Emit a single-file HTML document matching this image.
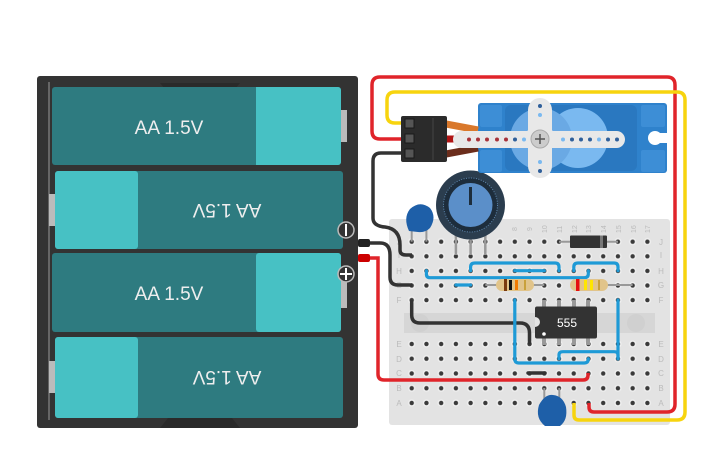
<!DOCTYPE html>
<html><head><meta charset="utf-8"><style>
html,body{margin:0;padding:0;background:#fff;width:725px;height:453px;overflow:hidden}
svg{display:block}
text{font-family:"Liberation Sans",sans-serif}
</style></head><body>
<svg width="725" height="453" viewBox="0 0 725 453" xmlns="http://www.w3.org/2000/svg">
<defs>
<pattern id="ht" patternUnits="userSpaceOnUse" x="404.35" y="234.4" width="14.73" height="14.6">
<circle cx="7.36" cy="7.3" r="3.6" fill="#f0f0f0"/><circle cx="7.36" cy="7.3" r="2.2" fill="#3a3a3a"/></pattern>
<pattern id="hb" patternUnits="userSpaceOnUse" x="404.35" y="336.6" width="14.73" height="14.75">
<circle cx="7.36" cy="7.37" r="3.6" fill="#f0f0f0"/><circle cx="7.36" cy="7.37" r="2.2" fill="#3a3a3a"/></pattern>
</defs>

<!-- battery pack -->
<rect x="37" y="76" width="321" height="352" rx="3" fill="#333"/>
<path d="M160 83 L240 83 L232 93 L168 93 Z" fill="#2a2a2a"/>
<rect x="48" y="82" width="2" height="338" fill="#999" opacity="0.5"/>
<rect x="52" y="87" width="289" height="78" rx="3" fill="#2e7b80"/>
<rect x="256" y="87" width="85" height="78" rx="3" fill="#47c1c4"/><rect x="256" y="87" width="6" height="78" fill="#47c1c4"/>
<text x="169" y="134" font-size="19" fill="#eee" text-anchor="middle">AA 1.5V</text>
<rect x="341" y="110" width="6" height="32" fill="#bbb"/>
<rect x="55" y="171" width="288" height="78" rx="3" fill="#2e7b80"/>
<rect x="55" y="171" width="83" height="78" rx="3" fill="#47c1c4"/>
<text x="0" y="0" font-size="19" fill="#eee" text-anchor="middle" transform="translate(227,204) rotate(180)">AA 1.5V</text>
<rect x="49" y="194" width="6" height="32" fill="#bbb"/>
<rect x="52" y="253" width="289" height="79" rx="3" fill="#2e7b80"/>
<rect x="256" y="253" width="85" height="79" rx="3" fill="#47c1c4"/>
<text x="169" y="300" font-size="19" fill="#eee" text-anchor="middle">AA 1.5V</text>
<rect x="341" y="276" width="6" height="32" fill="#bbb"/>
<rect x="55" y="337" width="288" height="81" rx="3" fill="#2e7b80"/>
<rect x="55" y="337" width="83" height="81" rx="3" fill="#47c1c4"/>
<text x="0" y="0" font-size="19" fill="#eee" text-anchor="middle" transform="translate(227,371) rotate(180)">AA 1.5V</text>
<rect x="49" y="361" width="6" height="32" fill="#bbb"/>
<path d="M160 428 L168 418 L232 418 L240 428 Z" fill="#2a2a2a"/>
<circle cx="346" cy="230" r="8" fill="#333" stroke="#bbb" stroke-width="1.5"/>
<rect x="345" y="224" width="2" height="12" fill="#fff"/>
<circle cx="346" cy="274" r="8" fill="#333" stroke="#bbb" stroke-width="1.5"/>
<rect x="340" y="273" width="12" height="2" fill="#fff"/><rect x="345" y="268" width="2" height="12" fill="#fff"/>
<rect x="358" y="239" width="12" height="8" rx="2" fill="#222"/>
<rect x="358" y="254" width="12" height="8" rx="2" fill="#c00"/>

<!-- breadboard -->
<rect x="389" y="219" width="281" height="206" rx="3" fill="#e3e3e3"/>
<rect x="404" y="313" width="251" height="20" fill="#d6d6d6"/>
<circle cx="420" cy="323" r="9" fill="#d0d0d0"/><circle cx="636" cy="323" r="9" fill="#d0d0d0"/>
<rect x="404.35" y="234.4" width="250.4" height="73" fill="url(#ht)"/>
<rect x="404.35" y="336.6" width="250.4" height="73.75" fill="url(#hb)"/>
<g font-size="8" fill="#bbb" text-anchor="middle">
<text x="399" y="245">J</text><text x="399" y="258">I</text><text x="399" y="274">H</text><text x="399" y="288">G</text><text x="399" y="303">F</text>
<text x="399" y="347">E</text><text x="399" y="362">D</text><text x="399" y="376">C</text><text x="399" y="391">B</text><text x="399" y="406">A</text>
<text x="661" y="245">J</text><text x="661" y="258">I</text><text x="661" y="274">H</text><text x="661" y="288">G</text><text x="661" y="303">F</text>
<text x="661" y="347">E</text><text x="661" y="362">D</text><text x="661" y="376">C</text><text x="661" y="391">B</text><text x="661" y="406">A</text>
</g>
<g font-size="7" fill="#bbb">
<text transform="translate(517,231) rotate(-90)">8</text><text transform="translate(532,231) rotate(-90)">9</text>
<text transform="translate(547,233) rotate(-90)">10</text><text transform="translate(562,233) rotate(-90)">11</text>
<text transform="translate(577,233) rotate(-90)">12</text><text transform="translate(591,233) rotate(-90)">13</text>
<text transform="translate(606,233) rotate(-90)">14</text><text transform="translate(621,233) rotate(-90)">15</text>
<text transform="translate(636,233) rotate(-90)">16</text><text transform="translate(650,233) rotate(-90)">17</text>
</g>

<path d="M401 139 L380 139 Q372 139 372 131 L372 85 Q372 77 380 77 L667 77 Q675 77 675 85 L675 404 Q675 412 667 412 L594 412 Q589 412 589 407 L589 403" fill="none" stroke="#e0242a" stroke-width="3.5"/>
<path d="M401 123 L395 123 Q387 123 387 115 L387 100 Q387 92 395 92 L677 92 Q685 92 685 100 L685 412 Q685 420 677 420 L579 420 Q574 420 574 415 L574 403" fill="none" stroke="#f7d40e" stroke-width="3.5"/>
<path d="M401 153 L381 153 Q373 153 373 161 L373 218 Q373 226 385 227 Q400 229 400 245 L400 250 Q400 255 406 255 L412 255" fill="none" stroke="#333" stroke-width="3.5"/>
<path d="M370 243 L380 243 Q390 243 390 255 L390 277 Q390 285 398 285 L412 285" fill="none" stroke="#333" stroke-width="3.5"/>
<path d="M370 258 L378 258 L378 374 Q378 380 384 380 L583 380 Q588 380 588 375 L588 373" fill="none" stroke="#e0242a" stroke-width="3.5"/>
<path d="M411.7 300 L411.7 315 Q411.7 323 420 323 L520 323 Q529.5 323 529.5 333 L529.5 344" fill="none" stroke="#333" stroke-width="3.5"/>
<line x1="528" y1="373" x2="545" y2="373" stroke="#333" stroke-width="3.5" stroke-linecap="round"/>

<g fill="none" stroke="#1e9ad6" stroke-width="3.2" stroke-linecap="round">
<path d="M426.4 270.7 L426.4 274 Q426.4 277.7 430 277.7 L584 277.7 Q588.3 277.7 588.3 274 L588.3 270.7"/>
<path d="M573.8 270.7 L573.8 267 Q573.8 263 578 263 L614 263 Q618 263 618 267 L618 270.7"/>
<path d="M470.6 270.7 L470.6 267 Q470.6 263 475 263 L555 263 Q559 263 559 267 L559 270.7"/>
<line x1="514.8" y1="270.7" x2="544.3" y2="270.7"/>
<line x1="455.9" y1="285" x2="470.6" y2="285"/>
<path d="M514.8 300 L514.8 359 Q514.8 363 519 363 L584 363 Q588.3 363 588.3 359 L588.3 358.7"/>
<line x1="618" y1="300" x2="618" y2="358.7"/>
<path d="M559 358.7 L559 355 Q559 351.7 563 351.7 L614 351.7 Q618 351.7 618 355 L618 358.7"/>
</g>

<line x1="485.3" y1="285" x2="544.3" y2="285" stroke="#999" stroke-width="2"/>
<rect x="496" y="279" width="38" height="12" rx="6" fill="#e1c48a"/>
<rect x="504" y="279" width="3" height="12" fill="#7a3b10"/><rect x="509" y="280" width="3" height="10" fill="#111"/><rect x="515" y="280" width="3" height="10" fill="#f27b00"/><rect x="524" y="280" width="2" height="10" fill="#c9a13a"/>
<line x1="573.8" y1="285" x2="632.6" y2="285" stroke="#999" stroke-width="2"/>
<rect x="570" y="279" width="38" height="12" rx="6" fill="#e1c48a"/>
<rect x="576" y="279" width="3.5" height="12" fill="#e51010"/><rect x="584" y="280" width="3" height="10" fill="#ffe600"/><rect x="590" y="280" width="3" height="10" fill="#ffe600"/><rect x="598" y="280" width="2" height="10" fill="#c9a13a"/>

<g fill="#999"><rect x="542" y="300" width="4" height="8"/><rect x="557" y="300" width="4" height="8"/><rect x="572" y="300" width="4" height="8"/><rect x="586" y="300" width="4" height="8"/>
<rect x="542" y="337" width="4" height="8"/><rect x="557" y="337" width="4" height="8"/><rect x="572" y="337" width="4" height="8"/><rect x="586" y="337" width="4" height="8"/></g>
<rect x="535" y="306.5" width="62" height="32" rx="2" fill="#333"/>
<path d="M535 317 A5 5 0 0 1 535 327 Z" fill="#e3e3e3"/>
<text x="567" y="327" font-size="12" fill="#fff" text-anchor="middle">555</text>
<circle cx="544" cy="334" r="1.8" fill="#fff"/>

<line x1="559" y1="241.7" x2="618" y2="241.7" stroke="#999" stroke-width="2"/>
<rect x="570" y="235.5" width="37" height="12.5" rx="1" fill="#333"/>
<rect x="600" y="235.5" width="3" height="12.5" fill="#777"/>

<g stroke="#999" stroke-width="2"><line x1="411.7" y1="225" x2="411.7" y2="241.7"/><line x1="426.4" y1="225" x2="426.4" y2="241.7"/>
<line x1="544.3" y1="388" x2="544.3" y2="404"/><line x1="559.3" y1="388" x2="559.3" y2="404"/></g>
<path d="M409 231 Q403 218 410 209 Q420 200 430 208 Q437 217 430 228 Q425 233 418 232 Z" fill="#1e5fa8"/>
<path d="M545 426 Q535 418 539 405 Q545 394 553 395 Q563 396 566 407 Q568 420 560 426 Z" fill="#1e5fa8"/>

<g stroke="#999" stroke-width="2.5"><line x1="455.9" y1="232" x2="455.9" y2="255"/><line x1="470.6" y1="236" x2="470.6" y2="255"/><line x1="485.3" y1="232" x2="485.3" y2="255"/></g>
<circle cx="470.5" cy="205" r="34.5" fill="#2b3d4e"/>
<circle cx="470.5" cy="205" r="27" fill="#1d2d3c" stroke="#5d86ad" stroke-width="1" stroke-dasharray="1 1.5"/>
<circle cx="470.5" cy="205" r="22" fill="#5b8fc9"/>
<line x1="470.5" y1="187" x2="470.5" y2="205" stroke="#1d2d3c" stroke-width="3"/>

<rect x="478" y="103" width="189" height="70" rx="3" fill="#2f82cc"/>
<rect x="480" y="105" width="22" height="22" rx="2" fill="#3d8ed6"/><rect x="480" y="150" width="22" height="22" rx="2" fill="#3d8ed6"/>
<rect x="641" y="105" width="24" height="22" rx="2" fill="#3d8ed6"/><rect x="641" y="150" width="24" height="22" rx="2" fill="#3d8ed6"/>
<rect x="505" y="105" width="132" height="66" rx="6" fill="#2a78c0"/>
<circle cx="578" cy="138" r="30" fill="#7ab9f0"/>
<circle cx="541" cy="139" r="31" fill="#6aa9e4"/>
<circle cx="655" cy="138" r="7" fill="#fff"/><rect x="655" y="133" width="12" height="10" fill="#fff"/>
<path d="M446 124 L478 130" stroke="#d9782b" stroke-width="7"/>
<path d="M446 139 L478 139" stroke="#b01515" stroke-width="7"/>
<path d="M446 154 L478 148" stroke="#6b2d1c" stroke-width="7"/>
<rect x="453" y="131" width="172" height="17" rx="8.5" fill="#e8e8e8"/>
<rect x="528" y="98" width="24" height="80" rx="12" fill="#e8e8e8"/>
<circle cx="540" cy="139" r="15" fill="#e8e8e8"/>
<circle cx="540" cy="139" r="9" fill="#ccc" stroke="#aaa"/>
<path d="M535 139 H545 M540 134 V144" stroke="#555" stroke-width="1.5"/>
<g fill="#a8323a"><circle cx="469" cy="139.5" r="2"/><circle cx="478" cy="139.5" r="2"/><circle cx="487" cy="139.5" r="2"/><circle cx="497" cy="139.5" r="2"/><circle cx="506" cy="139.5" r="2"/></g>
<g fill="#2f5f9a"><circle cx="515" cy="139.5" r="2"/><circle cx="524" cy="139.5" r="2" fill="#7ab9f0"/><circle cx="563" cy="139.5" r="2" fill="#7ab9f0"/><circle cx="572" cy="139.5" r="2"/><circle cx="581" cy="139.5" r="2"/><circle cx="590" cy="139.5" r="2"/><circle cx="599" cy="139.5" r="2" fill="#7ab9f0"/><circle cx="608" cy="139.5" r="2"/><circle cx="617" cy="139.5" r="2"/>
<circle cx="540" cy="106" r="2"/><circle cx="540" cy="115" r="2" fill="#7ab9f0"/><circle cx="540" cy="162" r="2" fill="#7ab9f0"/><circle cx="540" cy="171" r="2"/></g>
<rect x="401" y="116" width="46" height="46" rx="2" fill="#2b2b2b"/>
<line x1="433" y1="118" x2="433" y2="160" stroke="#444" stroke-width="1"/>
<g fill="#555" stroke="#1a1a1a"><rect x="405" y="119" width="9" height="9"/><rect x="405" y="134" width="9" height="9"/><rect x="405" y="149" width="9" height="9"/></g>
</svg>
</body></html>
